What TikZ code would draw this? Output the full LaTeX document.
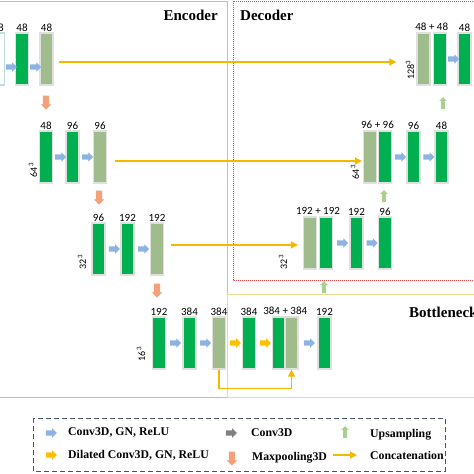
\documentclass[tikz,border=0pt]{standalone}
\usepackage{fontspec}
\setmainfont{Liberation Serif}
\newfontfamily\numfont{Carlito}
\usetikzlibrary{shapes.arrows,arrows.meta,calc}

\definecolor{blockgreen}{HTML}{00B050}
\definecolor{blockgray}{HTML}{A0BC8C}
\definecolor{convblue}{HTML}{8DB3E2}
\definecolor{poolred}{HTML}{F4A07A}
\definecolor{upgreen}{HTML}{A9D18E}
\definecolor{dilyellow}{HTML}{FFC000}
\definecolor{concatyellow}{HTML}{F5B800}
\definecolor{legendblue}{HTML}{44546A}
\definecolor{encline}{HTML}{A8D48C}
\definecolor{decline}{HTML}{E84848}
\definecolor{botline}{HTML}{E8DC90}

\tikzset{
  blk/.style={minimum width=13pt, minimum height=52pt, inner sep=0pt, draw=black!12, line width=1.2pt},
  feat/.style={blk, fill=blockgreen},
  skip/.style={blk, fill=blockgray},
  lbl/.style={font=\numfont\fontsize{11}{13}\selectfont, inner sep=1pt},
  res/.style={font=\numfont\fontsize{10}{12}\selectfont, rotate=90, inner sep=0pt},
  arr/.style={single arrow, minimum height=11pt, inner xsep=0pt, inner ysep=2.5pt, single arrow head extend=2pt, draw=none},
  conv/.style={arr, fill=convblue},
  dil/.style={arr, fill=dilyellow},
  plain/.style={arr, fill=black!50},
  pool/.style={arr, fill=poolred, rotate=-90, minimum height=14pt, inner ysep=3pt},
  up/.style={arr, fill=upgreen, rotate=90, minimum height=12pt, inner ysep=1.6pt, single arrow head extend=2pt},
  concat/.style={concatyellow, line width=1.6pt, -{Triangle[length=7pt,width=7pt]}},
  title/.style={font=\bfseries\fontsize{15}{17}\selectfont, inner sep=0pt},
  legtext/.style={font=\bfseries\fontsize{11.8}{14}\selectfont, anchor=west, inner sep=0pt},
}

\begin{document}
\begin{tikzpicture}[x=1pt,y=-1pt]
    \useasboundingbox (0,0) rectangle (474,474);
    \clip (0,0) rectangle (474,474);
    % regions
    \draw[encline, line width=0.8pt] (-5,1) rectangle (227,397);
    \draw[botline, line width=0.8pt] (227,294) rectangle (480,397);
    \draw[decline, line width=0.9pt, dash pattern=on 1pt off 1pt] (233,1) rectangle (480,280);
    \node[title, anchor=east] (enc) at (218,15) {Encoder};
    \node[title, anchor=west] (dec) at (240,15) {Decoder};
    \node[title, anchor=west] (bot) at (409,312) {Bottleneck};

    % encoder
    \node[blk, fill=white, draw=teal!25] (e0) at (-2,59) [label={[lbl]above:48}] {};
    \node[feat] (e1) at (22,59) [label={[lbl]above:48}] {};
    \node[skip] (e2) at (46.5,59) [label={[lbl]above:48}] {};
    \node[feat] (e3) at (46,157) [label={[lbl]above:48}] {};
    \node[feat] (e4) at (72.5,157) [label={[lbl]above:96}] {};
    \node[skip] (e5) at (100,157) [label={[lbl]above:96}] {};
    \node[feat] (e6) at (98.5,249) [label={[lbl]above:96}] {};
    \node[feat] (e7) at (127.5,249) [label={[lbl]above:192}] {};
    \node[skip] (e8) at (157,249) [label={[lbl]above:192}] {};
    \node[res] (r64) at (33,170) {64\textsuperscript{3}};
    \node[res] (r32) at (82,262) {32\textsuperscript{3}};

    % bottleneck
    \node[feat] (b1) at (159,343) [label={[lbl]above:192}] {};
    \node[feat] (b2) at (189.5,343) [label={[lbl]above:384}] {};
    \node[skip] (b3) at (219,343) [label={[lbl]above:384}] {};
    \node[feat] (b4) at (249,343) [label={[lbl]above:384}] {};
    \node[feat] (b5) at (279,343) {};
    \node[skip] (b6) at (291.5,343) {};
    \node[feat] (b7) at (324.5,343) [label={[lbl]above:192}] {};
    \node[lbl, above=1pt] (lb56) at ($(b5.north)!0.5!(b6.north)$) {384 + 384};
    \node[res] (r16) at (141,354) {16\textsuperscript{3}};

    % decoder
    \node[skip] (d1a) at (423.5,59) {};
    \node[feat] (d1b) at (440,59) {};
    \node[feat] (d1c) at (464.5,59) [label={[lbl]above:48}] {};
    \node[lbl, above=1pt] (ld1) at ($(d1a.north)!0.5!(d1b.north)$) {48 + 48};
    \node[skip] (d2a) at (370,157) {};
    \node[feat] (d2b) at (385,157) {};
    \node[feat] (d2c) at (413.5,157) [label={[lbl]above:96}] {};
    \node[feat] (d2d) at (441.5,157) [label={[lbl]above:48}] {};
    \node[lbl, above=1pt] (ld2) at ($(d2a.north)!0.5!(d2b.north)$) {96 + 96};
    \node[skip] (d3a) at (310,243) {};
    \node[feat] (d3b) at (326,243) {};
    \node[feat] (d3c) at (356.5,243) [label={[lbl]above:192}] {};
    \node[feat] (d3d) at (385,243) [label={[lbl]above:96}] {};
    \node[lbl, above=1pt] (ld3) at ($(d3a.north)!0.5!(d3b.north)$) {192 + 192};
    \node[res] (r128) at (410,70) {128\textsuperscript{3}};
    \node[res] (r64d) at (355,172) {64\textsuperscript{3}};
    \node[res] (r32d) at (283,262) {32\textsuperscript{3}};

    % operations
    \node[conv] (cv-e0) at ($(e0.east)!0.5!(e1.west)+(0,8)$) {};
    \node[conv] (cv-e1) at ($(e1.east)!0.5!(e2.west)+(0,8)$) {};
    \foreach \a/\b in {e3/e4,e4/e5,e6/e7,e7/e8,b1/b2,b2/b3,b6/b7,d1b/d1c,d2b/d2c,d2c/d2d,d3b/d3c,d3c/d3d}
        \node[conv] (cv-\a) at ($(\a.east)!0.5!(\b.west)$) {};
    \foreach \a/\b in {b3/b4,b4/b5}
        \node[dil] (dl-\a) at ($(\a.east)!0.5!(\b.west)$) {};
    \node[pool] (p1) at (46,101) {};
    \node[pool] (p2) at (99,196) {};
    \node[pool] (p3) at (157,289) {};
    \node[up] (u1) at (443,104) {};
    \node[up] (u2) at (384,197) {};
    \node[up] (u3) at (324,288) {};

    % concatenations
    \draw[concat] (e2.east) ++(5,3) -- ([xshift=-20pt,yshift=-3pt]d1a.west);
    \draw[concat] (e5.east) ++(8,4) -- ([xshift=-1pt,yshift=-4pt]d2a.west);
    \draw[concat] (e8.east |- d3a.west) ++(7,2) -- ([xshift=-5pt,yshift=-2pt]d3a.west);
    \draw[concat, line width=1.4pt] (b3.south) -- ++(0,19) -| (b6.south);

    % legend
    \draw[legendblue, line width=1pt, dash pattern=on 5pt off 3pt] (33,418) rectangle (445,471);
    \node[conv] (l1) at (50,433) {};
    \node[legtext] (t1) at (68,433) {Conv3D, GN, ReLU};
    \node[plain] (l2) at (230,433) {};
    \node[legtext] (t2) at (251,433) {Conv3D};
    \node[up] (l3) at (345,433) {};
    \node[legtext] (t3) at (370,435) {Upsampling};
    \node[dil] (l4) at (50,455) {};
    \node[legtext] (t4) at (68,455) {Dilated Conv3D, GN, ReLU};
    \node[pool] (l5) at (232,457) {};
    \node[legtext] (t5) at (252,458) {Maxpooling3D};
    \node[legtext] (t6) at (370,455) {Concatenation};
    \coordinate (l6) at (333,455);
    \draw[concat, line width=1.2pt] (l6) -- ([xshift=-13pt]t6.west);
\end{tikzpicture}
\end{document}
